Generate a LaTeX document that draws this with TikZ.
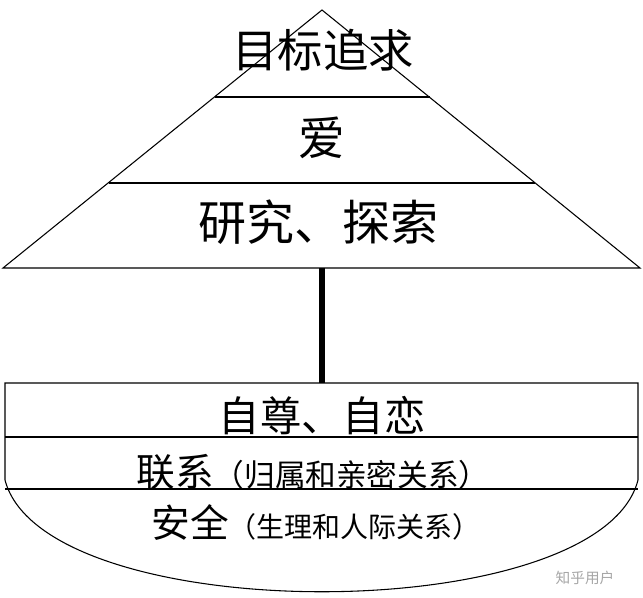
\documentclass[tikz,border=0pt]{standalone}
\usepackage{fontspec}
\newfontfamily\cjk{Noto Sans CJK SC}
\begin{document}
\begin{tikzpicture}[x=0.75pt,y=-0.75pt,line width=0.8pt,
  lbl/.style={font=\cjk, inner sep=0pt, anchor=center}]
\useasboundingbox (0,0) rectangle (643,598);
% triangle
\coordinate (apex) at (322,10);
\coordinate (bl) at (3,268);
\coordinate (br) at (640,268);
\draw (apex) -- (bl) -- (br) -- cycle;
\draw (215,97) -- (430,97);
\draw (109,183) -- (535,183);
\node[lbl, font=\cjk\fontsize{34}{36}\selectfont] (t1) at (323,50) {目标追求};
\node[lbl, font=\cjk\fontsize{35}{37}\selectfont] (t2) at (322,138) {爱};
\node[lbl, font=\cjk\fontsize{36}{38}\selectfont] (t3) at (318,222) {研究、探索};
% stem
\coordinate (s1) at (322,268);
\coordinate (s2) at (322,383);
\draw[line width=5pt] (s1) -- (s2);
% bowl
\draw (5,383) -- (638,383) -- (638,480) .. controls (600,629) and (44,629) .. (5,480) -- cycle;
\draw (5,437) -- (638,437);
\draw (5,489) -- (638,489);
\node[lbl, font=\cjk\fontsize{31}{33}\selectfont] (b1) at (322,416) {自尊、自恋};
\node[lbl] (b2) at (313,472) {\fontsize{29}{31}\selectfont 联系\fontsize{23}{25}\selectfont（归属和亲密关系）};
\node[lbl] (b3) at (316,523) {\fontsize{29}{31}\selectfont 安全\fontsize{21}{23}\selectfont（生理和人际关系）};
\node[lbl, font=\cjk\fontsize{11}{13}\selectfont, text=gray!70] (wm) at (585,578) {知乎用户};
\end{tikzpicture}
\end{document}
